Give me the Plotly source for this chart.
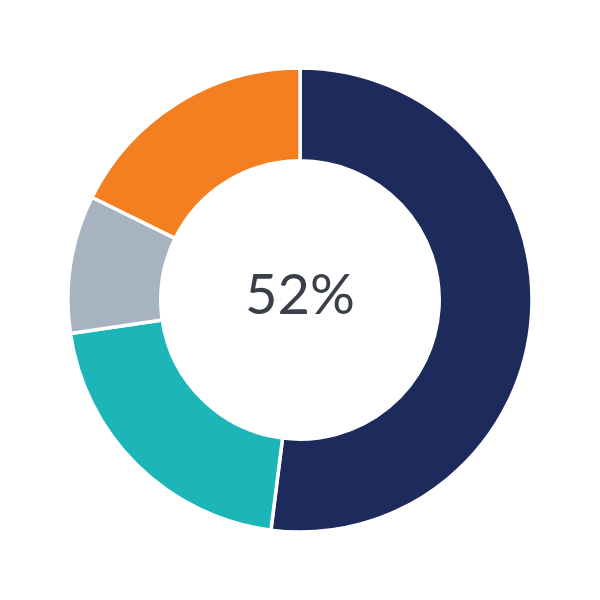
import plotly.graph_objects as go

labels = ["A", "B", "C", "D"]
values = [52, 20.7, 9.6, 17.7]
colors = ["#1c2b5b", "#1cb5b8", "#a8b3c1", "#f37f21"]
center_text = "52%"

fig = go.Figure(go.Pie(
    labels=labels, values=values, hole=0.6, sort=False, direction="clockwise",
    rotation=0, marker=dict(colors=colors, line=dict(color="white", width=3.5)),
    textinfo="none", hoverinfo="none",
))
fig.update_layout(
    width=600, height=600, showlegend=False,
    margin=dict(l=60, r=76, t=60, b=76),
    paper_bgcolor="white", plot_bgcolor="white",
    annotations=[dict(text=center_text, x=0.5, y=0.5, xref="paper", yref="paper",
                      yshift=8, showarrow=False,
                      font=dict(family="Lato", size=56, color="#3a3f4a"))],
)
fig.write_html("out.html")
